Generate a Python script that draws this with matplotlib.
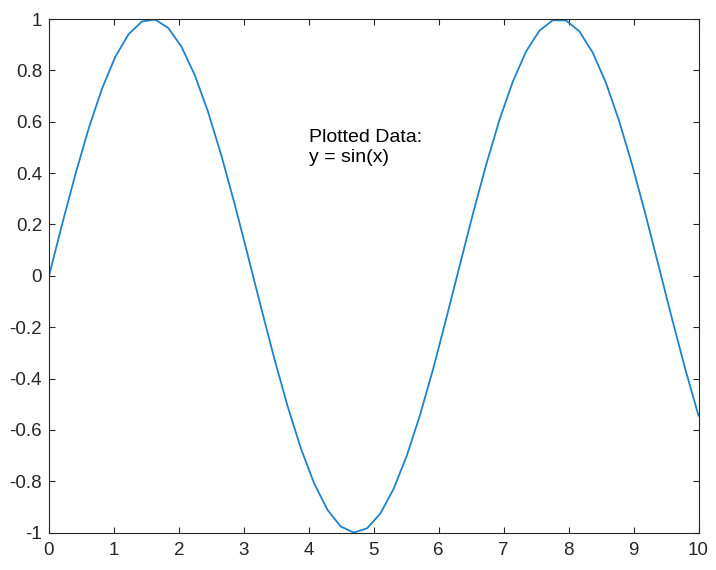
import matplotlib
matplotlib.use("Agg")
import matplotlib.pyplot as plt

x_values = [0.0, 0.2041, 0.4082, 0.6122, 0.8163, 1.0204, 1.2245, 1.4286, 1.6327, 1.8367,
            2.0408, 2.2449, 2.4490, 2.6531, 2.8571, 3.0612, 3.2653, 3.4694, 3.6735, 3.8776,
            4.0816, 4.2857, 4.4898, 4.6939, 4.8980, 5.1020, 5.3061, 5.5102, 5.7143, 5.9184,
            6.1224, 6.3265, 6.5306, 6.7347, 6.9388, 7.1429, 7.3469, 7.5510, 7.7551, 7.9592,
            8.1633, 8.3673, 8.5714, 8.7755, 8.9796, 9.1837, 9.3878, 9.5918, 9.7959, 10.0]
y_values = [0.0, 0.2027, 0.3969, 0.5748, 0.7287, 0.8525, 0.9405, 0.9899, 0.9980, 0.9649,
            0.8915, 0.7813, 0.6385, 0.4693, 0.2807, 0.0803, -0.1234, -0.3220, -0.5072, -0.6714,
            -0.8076, -0.9103, -0.9754, -0.9998, -0.9826, -0.9250, -0.8293, -0.6993, -0.5403, -0.3589,
            -0.1601, 0.0433, 0.2449, 0.4363, 0.6096, 0.7576, 0.8741, 0.9547, 0.9951, 0.9944,
            0.9527, 0.8713, 0.7539, 0.6051, 0.4312, 0.2395, 0.0370, -0.1662, -0.3626, -0.5440]

x_ticks = [0, 1, 2, 3, 4, 5, 6, 7, 8, 9, 10]
y_ticks = [-1, -0.8, -0.6, -0.4, -0.2, 0, 0.2, 0.4, 0.6, 0.8, 1]
y_tick_labels = ["-1", "-0.8", "-0.6", "-0.4", "-0.2", "0", "0.2", "0.4", "0.6", "0.8", "1"]
annotation = "Plotted Data:\ny = sin(x)"

plt.rcParams['font.family'] = ['Liberation Sans', 'DejaVu Sans']

fig = plt.figure(figsize=(7.16, 5.70), dpi=100)
ax = fig.add_axes([49 / 716, (570 - 532.7) / 570, (698.5 - 49) / 716, (532.7 - 19) / 570])

ax.plot(x_values, y_values, color='#1f82cc', linewidth=1.3)
ax.set_xlim(0, 10)
ax.set_ylim(-1, 1)
ax.set_xticks(x_ticks)
ax.set_xticklabels([str(t) for t in x_ticks])
ax.set_yticks(y_ticks)
ax.set_yticklabels(y_tick_labels)

edge = '#262626'
for s in ax.spines.values():
    s.set_color(edge)
    s.set_linewidth(0.8)
ax.tick_params(direction='in', top=True, right=True, length=4.3, width=0.8,
               color=edge, labelcolor=edge, labelsize=13.5)
ax.tick_params(axis='y', pad=5)
ax.tick_params(axis='x', pad=7)

ax.text(4, 0.5, annotation, fontsize=14, color='black', ha='left', va='center',
        linespacing=1.25)

fig.savefig('out.png', dpi=100)
